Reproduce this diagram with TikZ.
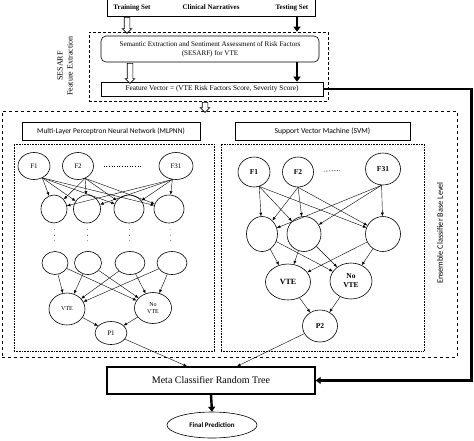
\documentclass[tikz,border=0pt]{standalone}
\usepackage{fontspec}
\setmainfont{Liberation Serif}
\newfontfamily\calibri{Carlito}
\usetikzlibrary{arrows.meta,shapes.geometric,shapes.arrows}

\begin{document}
\begin{tikzpicture}
[x=1pt, y=-1pt,
 nodes={font=\fontsize{7}{8}\selectfont, inner sep=0pt},
 neuron/.style={draw, ellipse},
 box/.style={draw, rectangle},
 hollow/.style={draw, fill=white, single arrow, shape border rotate=270,
   single arrow head extend=2pt, single arrow head indent=0pt, inner sep=2.5pt},
 bigarrow/.style={line width=2.4pt, -{Triangle[length=5pt,width=7pt]}},
 >={Latex[length=3.5pt,width=3pt]}, semithick]
\useasboundingbox (0,0) rectangle (474,440);

% feature extraction
\node[box, minimum width=208pt, minimum height=17pt, line width=0.8pt] (narr) at (211,7.5) {\bfseries Clinical Narratives};
\node (train) at (132,8) {\bfseries Training Set};
\node (test) at (292,8) {\bfseries Testing Set};
\node[box, densely dashed, minimum width=239pt, minimum height=69pt] (fe) at (208.5,66.5) {};
\node[box, rounded corners=5pt, minimum width=218pt, minimum height=26pt, align=center, font=\fontsize{7.1}{9}\selectfont] (sesarf) at (210,49)
  {Semantic Extraction and Sentiment Assessment of Risk Factors\\(SESARF) for VTE};
\node[box, minimum width=222pt, minimum height=14pt, font=\fontsize{7.3}{8}\selectfont] (fv) at (212,89) {Feature Vector = (VTE Risk Factors Score, Severity Score)};
\node[rotate=90, align=center, font=\fontsize{8}{10}\selectfont] (fetext) at (65,66) {SESARF\\Feature Extraction};

\node[hollow, minimum height=16pt] (ha1) at (127,24) {};
\node[hollow, minimum height=20pt] (ha2) at (130,72) {};
\node[hollow, minimum height=10pt] (ha3) at (205,106) {};
\draw[bigarrow] ([xshift=5pt]test |- narr.south) -- ([xshift=5pt]test |- fe.north);
\draw[bigarrow] ([xshift=5pt]test |- sesarf.south) -- ([xshift=5pt]test |- fv.north);

% base level
\node[box, dashed, line width=0.7pt, minimum width=455pt, minimum height=246pt] (base) at (229.5,234) {};
\node[rotate=90, font=\calibri\fontsize{8.3}{9}\selectfont] (basetext) at (440,233) {Ensemble Classifier Base Level};

\node[box, minimum width=178pt, minimum height=18pt, font=\calibri\fontsize{7.4}{9}\selectfont] (mlptitle) at (111,131) {Multi-Layer Perceptron Neural Network (MLPNN)};
\node[box, densely dotted, minimum width=200pt, minimum height=207pt] (mlp) at (114,247.5) {};
\node[box, minimum width=175pt, minimum height=18pt, font=\calibri\fontsize{7.6}{9}\selectfont] (svmtitle) at (322.5,131) {Support Vector Machine (SVM)};
\node[box, densely dotted, minimum width=203pt, minimum height=207pt] (svm) at (322.5,247.5) {};

% MLPNN
\node[neuron, minimum width=32pt, minimum height=27pt] (mf1) at (34,166) {F1};
\node[neuron, minimum width=31pt, minimum height=27pt] (mf2) at (78,166) {F2};
\node[neuron, minimum width=34pt, minimum height=27pt] (mf31) at (176,166) {F31};
\draw[dotted, shorten <=10pt, shorten >=17pt] (mf2) -- (mf31);
\node[neuron, minimum width=26pt, minimum height=28pt] (mh1) at (54,209) {};
\node[neuron, minimum width=27pt, minimum height=28pt] (mh2) at (87,209) {};
\node[neuron, minimum width=30pt, minimum height=28pt] (mh3) at (129,209) {};
\node[neuron, minimum width=30pt, minimum height=28pt] (mh4) at (169,209) {};
\node[neuron, minimum width=26pt, minimum height=23pt] (mg1) at (55,263) {};
\node[neuron, minimum width=27pt, minimum height=23pt] (mg2) at (88,263) {};
\node[neuron, minimum width=30pt, minimum height=23pt] (mg3) at (130,263) {};
\node[neuron, minimum width=30pt, minimum height=23pt] (mg4) at (172,263) {};
\node[neuron, minimum width=36pt, minimum height=32pt, font=\fontsize{6}{7}\selectfont] (mvte) at (67,309) {VTE};
\node[neuron, minimum width=37pt, minimum height=31pt, align=center, font=\fontsize{6}{7.5}\selectfont] (mnovte) at (153,308) {No\\VTE};
\node[neuron, minimum width=32pt, minimum height=23pt] (p1) at (111,333) {P1};

\foreach \s/\a in {mf1/-55, mf2/-60, mf31/-105}
  \foreach \t in {mh1,mh2,mh3,mh4}
    \draw[->, thin] (\s.\a) -- (\t);
\foreach \i in {1,...,4}
  \draw[dash pattern=on 0.6pt off 5pt, shorten <=6pt, shorten >=5pt] (mh\i) -- (mg\i);
\foreach \s in {mg1,mg2,mg3,mg4}
  \foreach \t in {mvte,mnovte}
    \draw[->, thin] (\s) -- (\t);
\draw[->, thin] (mvte) -- (p1);
\draw[->, thin] (mnovte) -- (p1);

% SVM
\node[neuron, minimum width=32pt, minimum height=30pt, font=\fontsize{7.5}{8}\selectfont\bfseries] (sf1) at (254,172) {F1};
\node[neuron, minimum width=31pt, minimum height=30pt, font=\fontsize{7.5}{8}\selectfont\bfseries] (sf2) at (298,172) {F2};
\node[neuron, minimum width=35pt, minimum height=32pt, font=\fontsize{7.5}{8}\selectfont\bfseries] (sf31) at (383,169) {F31};
\draw[densely dotted, shorten <=9pt, shorten >=25pt] (sf2) -- (sf31);
\node[neuron, minimum width=31pt, minimum height=35pt] (sh1) at (262,234) {};
\node[neuron, minimum width=34pt, minimum height=35pt] (sh2) at (304,234) {};
\node[neuron, minimum width=35pt, minimum height=35pt] (sh3) at (383,234) {};
\node[neuron, minimum width=45pt, minimum height=36pt, font=\fontsize{8}{9}\selectfont\bfseries] (svte) at (288,282) {VTE};
\node[neuron, minimum width=42pt, minimum height=36pt, align=center, font=\fontsize{7.5}{9}\selectfont\bfseries] (snovte) at (351,281) {No\\VTE};
\node[neuron, minimum width=35pt, minimum height=32pt, font=\fontsize{7.5}{8}\selectfont\bfseries] (p2) at (320,326) {P2};

\foreach \s/\a in {sf1/-70, sf2/-90, sf31/-95}
  \foreach \t in {sh1,sh2,sh3}
    \draw[->, thin] (\s.\a) -- (\t);
\foreach \s in {sh1,sh2,sh3}
  \foreach \t in {svte,snovte}
    \draw[->, thin] (\s) -- (\t);
\draw[->, thin] (svte) -- (p2);
\draw[->, thin] (snovte) -- (p2);

% meta level
\node[box, line width=1.4pt, minimum width=208pt, minimum height=27pt, font=\fontsize{10}{12}\selectfont] (meta) at (211,380.5) {Meta Classifier Random Tree};
\node[neuron, minimum width=90pt, minimum height=26pt, font=\calibri\bfseries\fontsize{7}{8}\selectfont] (final) at (212,425) {Final Prediction};
\draw[->, thin] (p1) -- ([xshift=-24pt]meta.north);
\draw[->, thin] (p2) -- ([xshift=26pt]meta.north);
\draw[bigarrow] (meta.south) -- (final.north);
\draw[bigarrow, line width=2.6pt] (fv.east) -- ++(148,0) |- (meta.east);
\end{tikzpicture}
\end{document}
